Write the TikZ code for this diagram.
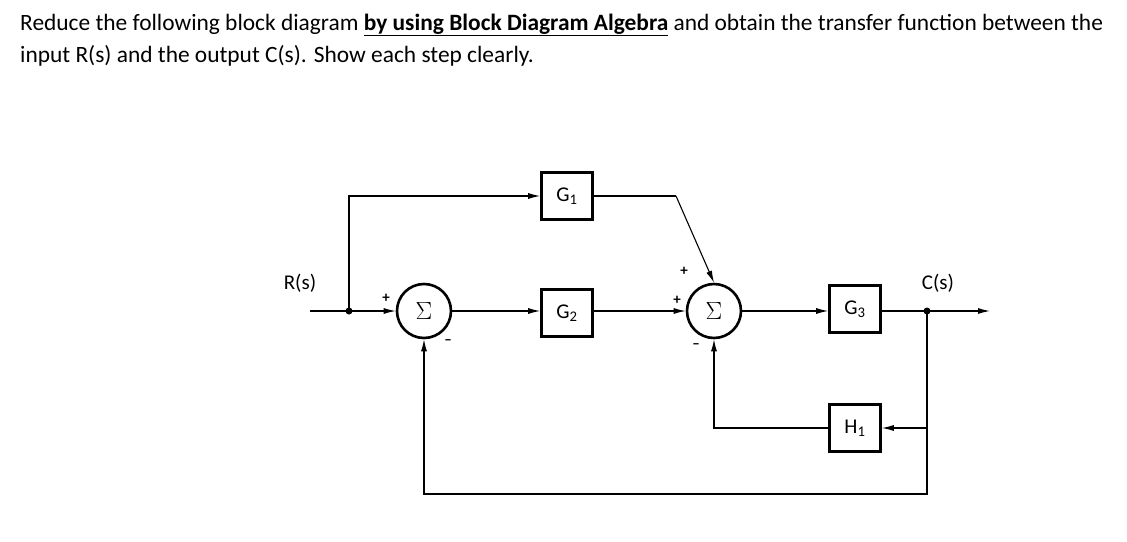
\documentclass[tikz,border=0pt]{standalone}
\usepackage{fontspec}
\setmainfont{Carlito}
\usetikzlibrary{arrows.meta}
\begin{document}
\begin{tikzpicture}[x=1pt,y=-1pt,
  blk/.style={draw,line width=2.6pt,minimum width=51pt,minimum height=47pt,inner sep=0pt,font=\fontsize{21}{21}\selectfont},
  sum/.style={draw,circle,line width=2.6pt,minimum size=54pt,inner sep=0pt,font=\fontsize{26}{26}\selectfont},
  ln/.style={line width=1.1pt},
  ar/.style={ln,-{Latex[length=12pt,width=6pt]}},
  sg/.style={font=\fontsize{15}{15}\selectfont\bfseries},
  lab/.style={font=\fontsize{21}{21}\selectfont}]
\useasboundingbox (0,0) rectangle (1127,541);
\node[anchor=base west,inner sep=0pt,font=\fontsize{23.4}{23.4}\selectfont] (t1) at (20,30) {Reduce the following block diagram \textbf{\underline{by using Block Diagram Algebra}} and obtain the transfer function between the};
\node[anchor=base west,inner sep=0pt,font=\fontsize{23.4}{23.4}\selectfont] (t2) at (20,62) {input R(s) and the output C(s). Show each step clearly.};
\node[sum] (s1) at (424,311) {$\Sigma$};
\node[sum] (s2) at (714,311) {$\Sigma$};
\node[blk] (g1) at (567,196) {G\textsubscript{1}};
\node[blk] (g2) at (567,313) {G\textsubscript{2}};
\node[blk] (g3) at (855,309) {G\textsubscript{3}};
\node[blk] (h1) at (855,428) {H\textsubscript{1}};
\coordinate (in) at (310,311);
\coordinate (bp) at (349,311);
\coordinate (op) at (927,311);
\coordinate (out) at (990,311);
\coordinate (kink) at (676,196);
\fill (bp) circle (3.5pt);
\fill (op) circle (3.5pt);
\draw[ln] (in) -- (bp);
\draw[ar] (bp) -- (s1);
\draw[ar] (bp) |- (g1);
\draw[ar] (s1) -- (g2.west|-s1);
\draw[ar] (g2.east|-s2) -- (s2);
\draw[ln] (g1) -- (kink);
\draw[ar] (kink) -- (s2.north);
\draw[ar] (s2) -- (g3.west|-s2);
\draw[ln] (g3.east|-op) -- (op);
\draw[ar] (op) -- (out);
\draw[ar] (op) |- (h1.east);
\draw[ar] (h1.west) -| (s2.south);
\draw[ar] (op) -- (op|-0,494) -| (s1.south);
\node[lab] (rs) at (300,283) {R(s)};
\node[lab] (cs) at (938,283) {C(s)};
\node[sg] (p1) at (386,298) {+};
\node[sg] (m1) at (448,342) {\textendash};
\node[sg] (p2) at (677,300) {+};
\node[sg] (p3) at (684,271) {+};
\node[sg] (m2) at (696,346) {\textendash};
\end{tikzpicture}
\end{document}
